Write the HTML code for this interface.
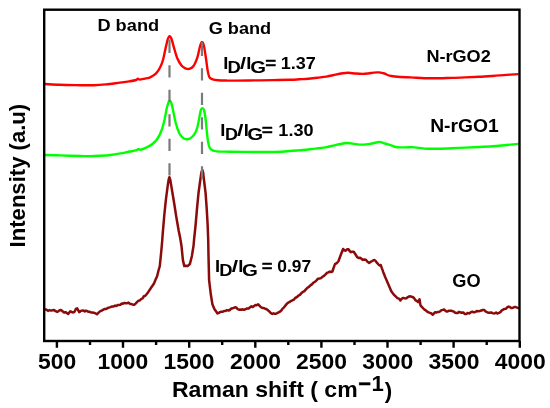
<!DOCTYPE html>
<html><head><meta charset="utf-8"><title>Raman spectra</title>
<style>html,body{margin:0;padding:0;background:#fff}svg{display:block}text{font-family:"Liberation Sans",Arial,sans-serif;font-weight:bold;fill:#000}</style>
</head><body>
<svg xmlns="http://www.w3.org/2000/svg" width="550" height="408" viewBox="0 0 550 408">
<rect width="550" height="408" fill="#fff"/>
<path d="M44.4 84.0C47.0 84.1 54.1 84.6 60.0 84.8C65.9 85.0 74.3 85.1 80.0 85.2C85.7 85.3 89.7 85.3 94.0 85.2C98.3 85.1 101.7 84.8 106.0 84.4C110.3 84.0 116.0 83.1 120.0 82.6C124.0 82.1 127.3 81.6 130.0 81.2C132.7 80.8 134.7 80.4 136.0 80.0C137.3 79.6 137.3 78.9 138.0 78.8C138.7 78.7 138.7 79.7 140.0 79.6C141.3 79.5 144.3 78.8 146.0 78.4C147.7 78.0 148.4 78.2 150.1 77.4C151.8 76.6 154.4 75.1 156.1 73.4C157.8 71.7 159.0 69.7 160.2 67.3C161.4 64.9 162.3 62.6 163.2 59.3C164.1 55.9 165.0 50.6 165.8 47.2C166.6 43.9 167.2 41.0 167.8 39.2C168.4 37.4 169.0 36.2 169.6 36.2C170.2 36.2 170.9 37.4 171.6 39.2C172.3 41.0 172.9 44.0 173.8 47.2C174.8 50.4 176.1 55.3 177.3 58.3C178.6 61.3 180.0 63.6 181.3 65.3C182.6 67.0 184.0 67.7 185.3 68.3C186.6 68.9 188.0 69.2 189.3 68.9C190.6 68.6 192.0 68.2 193.3 66.3C194.7 64.4 196.3 60.5 197.4 57.3C198.5 54.1 199.1 49.7 199.8 47.2C200.5 44.7 201.1 42.5 201.8 42.2C202.5 41.9 203.1 42.7 203.8 45.2C204.5 47.7 205.1 52.9 205.8 57.3C206.5 61.7 207.2 68.1 207.8 71.4C208.4 74.7 208.7 76.0 209.5 77.3C210.3 78.6 211.2 78.8 212.7 79.3C214.1 79.8 215.8 80.0 218.2 80.2C220.6 80.4 224.3 80.5 227.3 80.6C230.3 80.7 231.9 80.6 236.4 80.6C240.9 80.6 248.4 80.5 254.5 80.4C260.6 80.3 266.8 80.2 272.7 80.1C278.6 80.0 285.6 79.9 290.0 79.8C294.4 79.7 296.1 79.5 299.1 79.3C302.1 79.1 305.2 79.0 308.2 78.7C311.2 78.5 314.3 78.2 317.3 77.8C320.3 77.4 323.4 77.1 326.4 76.6C329.4 76.1 332.8 75.2 335.5 74.6C338.2 74.0 340.6 73.5 342.7 73.2C344.8 72.9 346.1 72.8 348.2 72.8C350.3 72.8 353.1 73.3 355.5 73.5C357.9 73.7 360.6 73.9 362.7 73.9C364.8 73.9 366.4 73.7 368.2 73.5C370.0 73.3 371.8 72.8 373.6 72.6C375.4 72.4 377.3 72.2 379.1 72.4C380.9 72.6 382.8 73.0 384.5 73.5C386.2 74.0 387.4 75.2 389.5 75.7C391.6 76.2 393.7 76.5 397.3 76.8C400.9 77.1 406.4 77.2 410.9 77.4C415.4 77.6 419.9 78.1 424.5 78.2C429.1 78.3 433.6 78.2 438.2 78.2C442.8 78.2 447.2 78.0 451.8 77.9C456.4 77.8 460.9 77.6 465.5 77.4C470.1 77.2 474.6 77.0 479.1 76.8C483.6 76.6 488.1 76.3 492.7 76.0C497.2 75.7 502.1 75.2 506.4 74.9C510.7 74.6 516.6 74.2 518.6 74.1" stroke="#ff0000" stroke-width="2.4" fill="none" stroke-linejoin="round"/>
<path d="M44.4 155.0C47.0 155.1 54.1 155.2 60.1 155.4C66.1 155.6 75.2 155.9 80.2 156.0C85.2 156.1 87.0 156.2 90.3 156.2C93.6 156.2 96.9 156.0 100.3 155.8C103.7 155.6 107.1 155.4 110.4 155.0C113.8 154.6 117.1 154.0 120.4 153.4C123.7 152.8 127.3 152.0 130.0 151.5C132.7 151.0 135.1 150.6 136.5 150.2C137.9 149.8 137.8 149.0 138.5 148.9C139.2 148.8 139.2 150.0 140.5 149.8C141.8 149.6 144.2 148.5 146.1 147.6C148.0 146.7 150.3 145.7 152.1 144.3C153.9 142.9 155.6 141.5 157.1 139.3C158.6 137.1 160.0 134.2 161.2 131.2C162.4 128.2 163.3 124.9 164.2 121.2C165.1 117.5 165.9 112.3 166.6 109.1C167.3 105.9 168.1 103.5 168.6 102.1C169.1 100.7 169.3 100.5 169.8 100.7C170.3 100.9 170.8 101.4 171.4 103.1C172.0 104.8 172.5 107.8 173.2 111.1C173.9 114.4 174.8 119.5 175.8 123.2C176.8 126.9 178.2 130.9 179.3 133.3C180.5 135.7 181.5 136.7 182.7 137.7C183.9 138.7 185.0 139.2 186.3 139.3C187.6 139.4 189.0 139.1 190.3 138.3C191.6 137.5 193.1 136.2 194.3 134.3C195.5 132.5 196.6 130.1 197.4 127.2C198.2 124.3 198.8 120.1 199.4 117.2C200.0 114.3 200.3 111.6 200.8 110.1C201.3 108.6 201.9 108.1 202.4 108.1C202.9 108.1 203.5 108.2 204.0 110.1C204.5 111.9 205.1 115.0 205.6 119.2C206.1 123.4 206.7 131.0 207.2 135.3C207.7 139.7 208.2 143.0 208.8 145.3C209.4 147.6 209.5 148.3 210.8 149.3C212.1 150.3 213.3 151.0 216.5 151.4C219.7 151.8 223.2 151.6 230.0 151.7C236.8 151.8 250.5 151.9 257.3 152.0C264.1 152.1 266.4 152.1 270.9 152.0C275.4 151.9 279.9 151.8 284.5 151.5C289.1 151.2 293.6 150.8 298.2 150.4C302.8 150.0 307.2 149.5 311.8 149.0C316.4 148.5 321.4 148.1 325.5 147.4C329.6 146.7 332.8 145.6 336.4 144.9C340.0 144.2 344.1 143.1 347.3 143.0C350.5 142.9 352.8 143.8 355.5 144.1C358.2 144.4 360.9 144.7 363.6 144.6C366.3 144.5 369.2 143.9 371.8 143.5C374.4 143.1 377.3 141.9 379.5 141.9C381.7 141.9 382.9 142.9 385.0 143.5C387.1 144.1 389.8 145.1 391.8 145.7C393.9 146.3 395.0 146.9 397.3 147.2C399.6 147.5 403.0 147.4 405.5 147.4C408.0 147.4 410.0 147.0 412.3 147.1C414.6 147.2 416.6 147.6 419.1 147.9C421.6 148.2 424.1 148.6 427.3 148.7C430.5 148.8 434.1 148.8 438.2 148.7C442.3 148.6 447.2 148.4 451.8 148.2C456.4 148.0 460.9 147.8 465.5 147.6C470.1 147.4 474.6 147.2 479.1 147.0C483.6 146.8 488.1 146.6 492.7 146.3C497.2 146.0 502.1 145.4 506.4 145.0C510.7 144.6 516.6 144.1 518.6 143.9" stroke="#00ff00" stroke-width="2.4" fill="none" stroke-linejoin="round"/>
<path d="M44.4 309.2L45.6 309.5L46.8 309.8L48.0 310.9L49.5 310.1L51.0 310.6L52.6 310.2L54.1 310.0L55.6 311.2L57.1 311.9L58.6 311.1L60.1 310.0L61.4 310.3L62.8 311.4L64.1 312.4L65.5 312.2L66.8 312.9L68.2 313.9L70.2 311.3L71.7 312.0L73.2 312.5L74.5 311.8L75.9 309.0L77.2 308.4L79.2 312.2L80.7 311.0L82.2 310.6L83.5 310.6L84.8 311.4L86.0 310.7L87.3 311.2L88.5 311.8L89.8 311.8L91.0 312.5L92.3 312.6L93.8 312.7L95.4 313.3L96.9 314.3L98.6 312.6L100.3 311.1L101.6 310.7L103.0 309.8L104.3 309.1L105.7 309.1L107.0 308.5L108.4 307.7L109.7 307.4L111.1 306.8L112.4 306.4L113.7 306.4L115.1 305.6L116.4 306.1L117.7 304.9L119.1 304.9L120.4 304.7L121.8 303.6L123.1 303.7L124.5 302.9L125.8 303.2L127.2 303.2L128.5 302.6L130.0 303.9L131.5 304.1L133.0 304.7L134.5 304.7L135.8 303.4L137.2 301.9L138.5 300.8L139.9 300.4L141.2 299.0L142.6 298.3L143.9 296.2L145.3 295.7L146.6 294.2L148.3 291.9L150.1 289.3L151.4 287.2L152.8 285.2L154.1 283.2L155.6 279.5L157.1 276.2L158.4 271.0L159.8 266.0L161.2 252.0L162.2 241.0L162.8 232.7L164.3 215.1L165.9 199.7L167.6 186.6L168.6 179.9L169.4 177.2L170.3 180.0L171.4 186.6L172.5 193.2L173.6 199.8L174.8 207.3L176.0 215.1L177.3 222.8L178.7 230.7L180.2 238.1L181.5 246.0L182.9 260.1L184.3 266.1L185.8 265.7L187.3 266.1L188.6 265.2L189.9 264.0L191.9 256.0L193.5 246.0L194.1 239.4L195.7 224.0L197.0 208.6L198.5 193.1L200.3 179.9L201.4 172.5L202.3 169.9L203.1 172.4L204.0 180.0L205.6 193.1L206.7 208.6L207.6 224.0L208.2 239.4L208.5 256.0L209.1 280.1L210.8 294.3L212.4 304.2L214.5 309.3L216.0 311.3L217.5 313.4L218.8 312.8L220.0 312.1L221.2 311.7L222.5 311.8L224.0 311.0L225.5 311.0L227.0 310.1L228.5 310.6L229.8 310.0L231.1 308.7L232.4 308.3L233.7 307.8L235.0 307.3L236.3 307.5L237.7 309.2L239.0 309.7L240.3 309.5L241.6 309.7L242.8 309.3L244.1 309.8L245.6 309.1L247.1 308.4L248.6 308.5L250.1 307.2L251.4 306.3L252.8 307.1L254.1 306.1L255.5 305.1L256.8 305.2L258.2 304.4L259.4 305.6L260.7 307.0L261.9 307.7L263.2 308.1L264.4 308.3L265.7 309.0L266.9 309.3L268.2 310.6L269.5 311.6L270.9 313.2L272.2 313.9L273.5 313.3L274.8 313.8L276.0 313.8L277.3 313.0L278.6 312.4L280.0 311.6L281.3 310.5L282.6 308.6L283.8 307.6L285.1 305.9L286.3 304.4L287.8 302.9L289.3 302.2L290.8 301.1L292.3 300.4L293.8 299.7L295.4 297.7L296.9 297.2L298.4 295.6L299.9 294.9L301.4 293.1L302.9 291.9L304.4 291.1L305.9 289.4L307.4 287.8L308.9 286.9L310.4 285.4L311.9 284.4L313.4 282.7L315.0 281.7L316.5 280.4L318.0 278.7L319.5 278.6L321.0 278.1L322.5 276.8L324.0 275.9L325.5 274.4L327.0 272.8L328.5 272.4L329.8 271.6L331.1 272.0L332.4 271.5L333.7 267.6L335.0 264.1L336.7 263.2L338.4 261.2L339.8 257.5L341.1 254.0L343.1 249.0L344.4 250.3L345.7 250.7L347.1 249.3L348.5 249.2L349.8 251.2L351.1 252.2L352.4 251.7L353.7 251.7L355.4 254.3L357.1 257.0L358.6 258.1L360.2 257.8L361.4 258.7L362.6 259.9L364.2 259.5L365.8 259.7L367.5 261.8L369.2 262.9L370.7 261.8L372.2 261.0L373.4 260.2L374.6 260.1L375.8 261.2L377.1 262.9L378.3 264.3L379.5 265.4L380.7 265.0L382.0 268.6L383.3 272.2L385.3 277.3L386.8 280.7L388.3 284.3L389.8 287.8L391.3 291.3L392.8 293.3L394.3 295.2L395.9 296.7L397.4 298.1L398.9 298.6L400.4 300.5L401.9 298.6L403.4 297.9L404.9 298.4L406.4 298.3L407.9 297.1L409.4 296.3L410.9 296.6L412.4 296.9L413.9 297.9L415.5 300.3L416.8 300.9L418.1 302.2L419.5 299.3L420.5 305.4L421.8 306.8L423.2 308.4L424.5 309.6L425.8 310.3L427.2 311.6L428.5 312.4L430.0 312.9L431.5 313.5L432.6 314.8L433.9 313.5L435.1 312.2L436.4 312.6L437.6 312.0L438.9 312.0L440.1 311.4L441.4 310.2L442.8 309.9L444.1 309.4L445.6 311.0L447.1 311.6L448.6 310.8L450.2 310.8L451.4 310.7L452.7 311.3L453.9 311.6L455.2 312.7L456.4 312.9L457.7 313.0L458.9 311.8L460.2 312.3L461.7 312.8L463.2 312.5L464.7 313.9L466.2 314.1L467.7 312.9L469.2 313.4L470.8 312.2L472.3 311.8L473.8 312.3L475.3 312.0L476.8 310.9L478.3 311.2L479.8 311.0L481.3 310.5L482.8 310.0L484.3 310.1L485.9 311.7L487.4 312.3L488.6 312.8L489.9 312.8L491.1 312.4L492.4 313.1L493.6 313.4L494.9 313.2L496.1 312.6L497.4 313.5L498.9 312.9L500.4 312.1L501.8 310.4L503.1 309.7L504.5 308.9L505.8 308.8L507.2 307.3L508.5 306.6L509.8 307.0L511.2 308.0L512.5 308.0L513.8 307.3L515.2 306.9L516.5 307.4L517.7 307.8L518.9 308.3" stroke="#8b0a0a" stroke-width="2.5" fill="none" stroke-linejoin="round"/>
<path d="M169.5 39.4 V53.1M169.5 65.3 V77.6M169.5 89.8 V102.1M169.5 114.3 V126.6M169.5 138.8 V151.1M169.5 163.3 V175.6M202.0 42.3 V56.0M202.0 68.2 V80.5M202.0 92.7 V105.0M202.0 117.2 V129.5M202.0 141.7 V154.0M202.0 166.2 V178.5" stroke="#7a7a7a" stroke-width="2.2" fill="none"/>
<rect x="44.2" y="9.7" width="475.3" height="331.3" fill="none" stroke="#000" stroke-width="2.4"/>
<path d="M56.9 341V347.7M90.0 341V345M123.0 341V347.7M156.1 341V345M189.2 341V347.7M222.2 341V345M255.3 341V347.7M288.3 341V345M321.4 341V347.7M354.5 341V345M387.5 341V347.7M420.6 341V345M453.6 341V347.7M486.7 341V345M519.8 341V347.7" stroke="#000" stroke-width="2.4" fill="none"/>
<text transform="translate(38.02 368.50) scale(1.0500 1)" font-size="21.8">500</text>
<text transform="translate(97.41 368.50) scale(1.0500 1)" font-size="21.8">1000</text>
<text transform="translate(163.54 368.50) scale(1.0500 1)" font-size="21.8">1500</text>
<text transform="translate(229.99 368.50) scale(1.0500 1)" font-size="21.8">2000</text>
<text transform="translate(296.11 368.50) scale(1.0500 1)" font-size="21.8">2500</text>
<text transform="translate(362.37 368.50) scale(1.0500 1)" font-size="21.8">3000</text>
<text transform="translate(428.50 368.50) scale(1.0500 1)" font-size="21.8">3500</text>
<text transform="translate(494.71 368.50) scale(1.0500 1)" font-size="21.8">4000</text>
<text transform="translate(97.38 31.20) scale(1.0732 1)" font-size="17">D band</text>
<text transform="translate(208.66 33.90) scale(1.0873 1)" font-size="16.7">G band</text>
<text transform="translate(223.27 68.80) scale(1.1200 1)" font-size="16.4">I</text>
<text transform="translate(227.57 73.40) scale(1.1662 1)" font-size="15.8">D</text>
<text transform="translate(239.99 68.80) scale(1.3220 1)" font-size="16.4">/</text>
<text transform="translate(246.37 68.80) scale(1.1200 1)" font-size="16.4">I</text>
<text transform="translate(250.17 73.40) scale(1.2849 1)" font-size="15.8">G</text>
<text stroke="#000" stroke-width="0.3" transform="translate(265.22 68.80) scale(1.1430 1)" font-size="16.4">=</text>
<text transform="translate(280.66 68.80) scale(1.1006 1)" font-size="16.4">1.37</text>
<text transform="translate(220.17 135.60) scale(1.1200 1)" font-size="16.4">I</text>
<text transform="translate(225.00 140.20) scale(1.1352 1)" font-size="15.8">D</text>
<text transform="translate(236.97 135.60) scale(1.4164 1)" font-size="16.4">/</text>
<text transform="translate(243.77 135.60) scale(1.1200 1)" font-size="16.4">I</text>
<text transform="translate(247.36 140.20) scale(1.2943 1)" font-size="15.8">G</text>
<text stroke="#000" stroke-width="0.3" transform="translate(261.71 135.60) scale(1.1552 1)" font-size="16.4">=</text>
<text transform="translate(278.36 135.60) scale(1.1022 1)" font-size="16.4">1.30</text>
<text transform="translate(214.97 271.70) scale(1.1200 1)" font-size="16.4">I</text>
<text transform="translate(219.37 276.30) scale(1.1662 1)" font-size="15.8">D</text>
<text transform="translate(231.78 271.70) scale(1.3928 1)" font-size="16.4">/</text>
<text transform="translate(238.17 271.70) scale(1.1200 1)" font-size="16.4">I</text>
<text transform="translate(241.96 276.30) scale(1.2943 1)" font-size="15.8">G</text>
<text stroke="#000" stroke-width="0.3" transform="translate(261.84 271.70) scale(1.1187 1)" font-size="16.4">=</text>
<text transform="translate(277.31 271.70) scale(1.0638 1)" font-size="16.4">0.97</text>
<text transform="translate(426.39 61.80) scale(1.0850 1)" font-size="16.7">N-rGO2</text>
<text transform="translate(430.21 132.10) scale(1.0949 1)" font-size="17.6">N-rGO1</text>
<text transform="translate(452.25 287.20) scale(1.0399 1)" font-size="17.5">GO</text>
<text transform="translate(171.96 397.40) scale(1.0724 1)" font-size="21.5">Raman shift ( cm</text>
<text stroke="#000" stroke-width="0.5" transform="translate(358.20 390.60) scale(1.0110 1)" font-size="21.5">−</text>
<text transform="translate(371.41 390.60) scale(1.0300 1)" font-size="21.5">1</text>
<text transform="translate(384.68 397.90) scale(1.0383 1)" font-size="21.5">)</text>
<text transform="translate(24.8 175.6) scale(1.04 1) rotate(-90)" font-size="22.1" text-anchor="middle">Intensity (a.u)</text>
</svg>
</body></html>
